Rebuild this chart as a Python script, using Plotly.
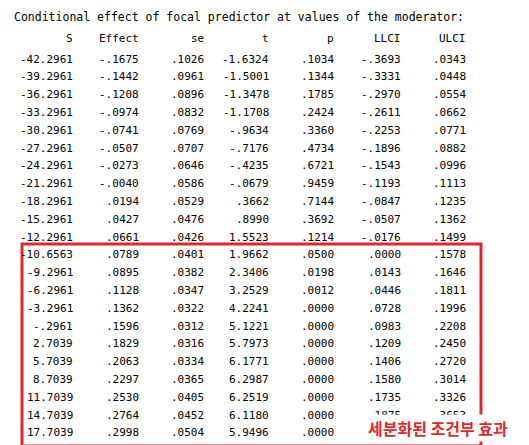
import plotly.graph_objects as go

title = "Conditional effect of focal predictor at values of the moderator:"
columns = ["S", "Effect", "se", "t", "p", "LLCI", "ULCI"]
S = ["-42.2961","-39.2961","-36.2961","-33.2961","-30.2961","-27.2961","-24.2961","-21.2961","-18.2961","-15.2961","-12.2961",
     "-10.6563","-9.2961","-6.2961","-3.2961","-.2961","2.7039","5.7039","8.7039","11.7039","14.7039","17.7039"]
Effect = ["-.1675","-.1442","-.1208","-.0974","-.0741","-.0507","-.0273","-.0040",".0194",".0427",".0661",
          ".0789",".0895",".1128",".1362",".1596",".1829",".2063",".2297",".2530",".2764",".2998"]
se = [".1026",".0961",".0896",".0832",".0769",".0707",".0646",".0586",".0529",".0476",".0426",
      ".0401",".0382",".0347",".0322",".0312",".0316",".0334",".0365",".0405",".0452",".0504"]
t = ["-1.6324","-1.5001","-1.3478","-1.1708","-.9634","-.7176","-.4235","-.0679",".3662",".8990","1.5523",
     "1.9662","2.3406","3.2529","4.2241","5.1221","5.7973","6.1771","6.2987","6.2519","6.1180","5.9496"]
p = [".1034",".1344",".1785",".2424",".3360",".4734",".6721",".9459",".7144",".3692",".1214",
     ".0500",".0198",".0012",".0000",".0000",".0000",".0000",".0000",".0000",".0000",".0000"]
LLCI = ["-.3693","-.3331","-.2970","-.2611","-.2253","-.1896","-.1543","-.1193","-.0847","-.0507","-.0176",
        ".0000",".0143",".0446",".0728",".0983",".1209",".1406",".1580",".1735",".1875",".2009"]
ULCI = [".0343",".0448",".0554",".0662",".0771",".0882",".0996",".1113",".1235",".1362",".1499",
        ".1578",".1646",".1811",".1996",".2208",".2450",".2720",".3014",".3326",".3653",".3988"]
label = "세분화된 조건부 효과"

data = [S, Effect, se, t, p, LLCI, ULCI]
col_right = [67, 133, 198, 263, 328, 395, 460]
font = dict(family="DejaVu Sans Mono", size=11, color="black")

fig = go.Figure()
ann = [dict(x=4, y=9, text=title, xanchor="left", yanchor="middle", showarrow=False,
            font=dict(family="DejaVu Sans Mono", size=11.5, color="black"))]
for c, name in enumerate(columns):
    ann.append(dict(x=col_right[c], y=30, text=name, xanchor="right", yanchor="middle", showarrow=False, font=font))
    for r, v in enumerate(data[c]):
        ann.append(dict(x=col_right[c], y=51 + r * 17.8, text=v, xanchor="right", yanchor="middle", showarrow=False, font=font))
ann.append(dict(x=430, y=420, text="<b>" + label + "</b>", xanchor="center", yanchor="middle", showarrow=False,
                bgcolor="white", font=dict(family="Noto Sans CJK KR", size=16, color="#e0282c")))

fig.update_layout(
    width=529, height=445, margin=dict(l=0, r=0, t=0, b=0),
    plot_bgcolor="white", paper_bgcolor="white",
    xaxis=dict(range=[0, 529], visible=False, fixedrange=True),
    yaxis=dict(range=[445, 0], visible=False, fixedrange=True),
    annotations=ann,
    shapes=[dict(type="rect", x0=14, y0=236, x1=473, y1=438, line=dict(color="#e0282c", width=3))],
    showlegend=False,
)
fig.write_html("out.html")
